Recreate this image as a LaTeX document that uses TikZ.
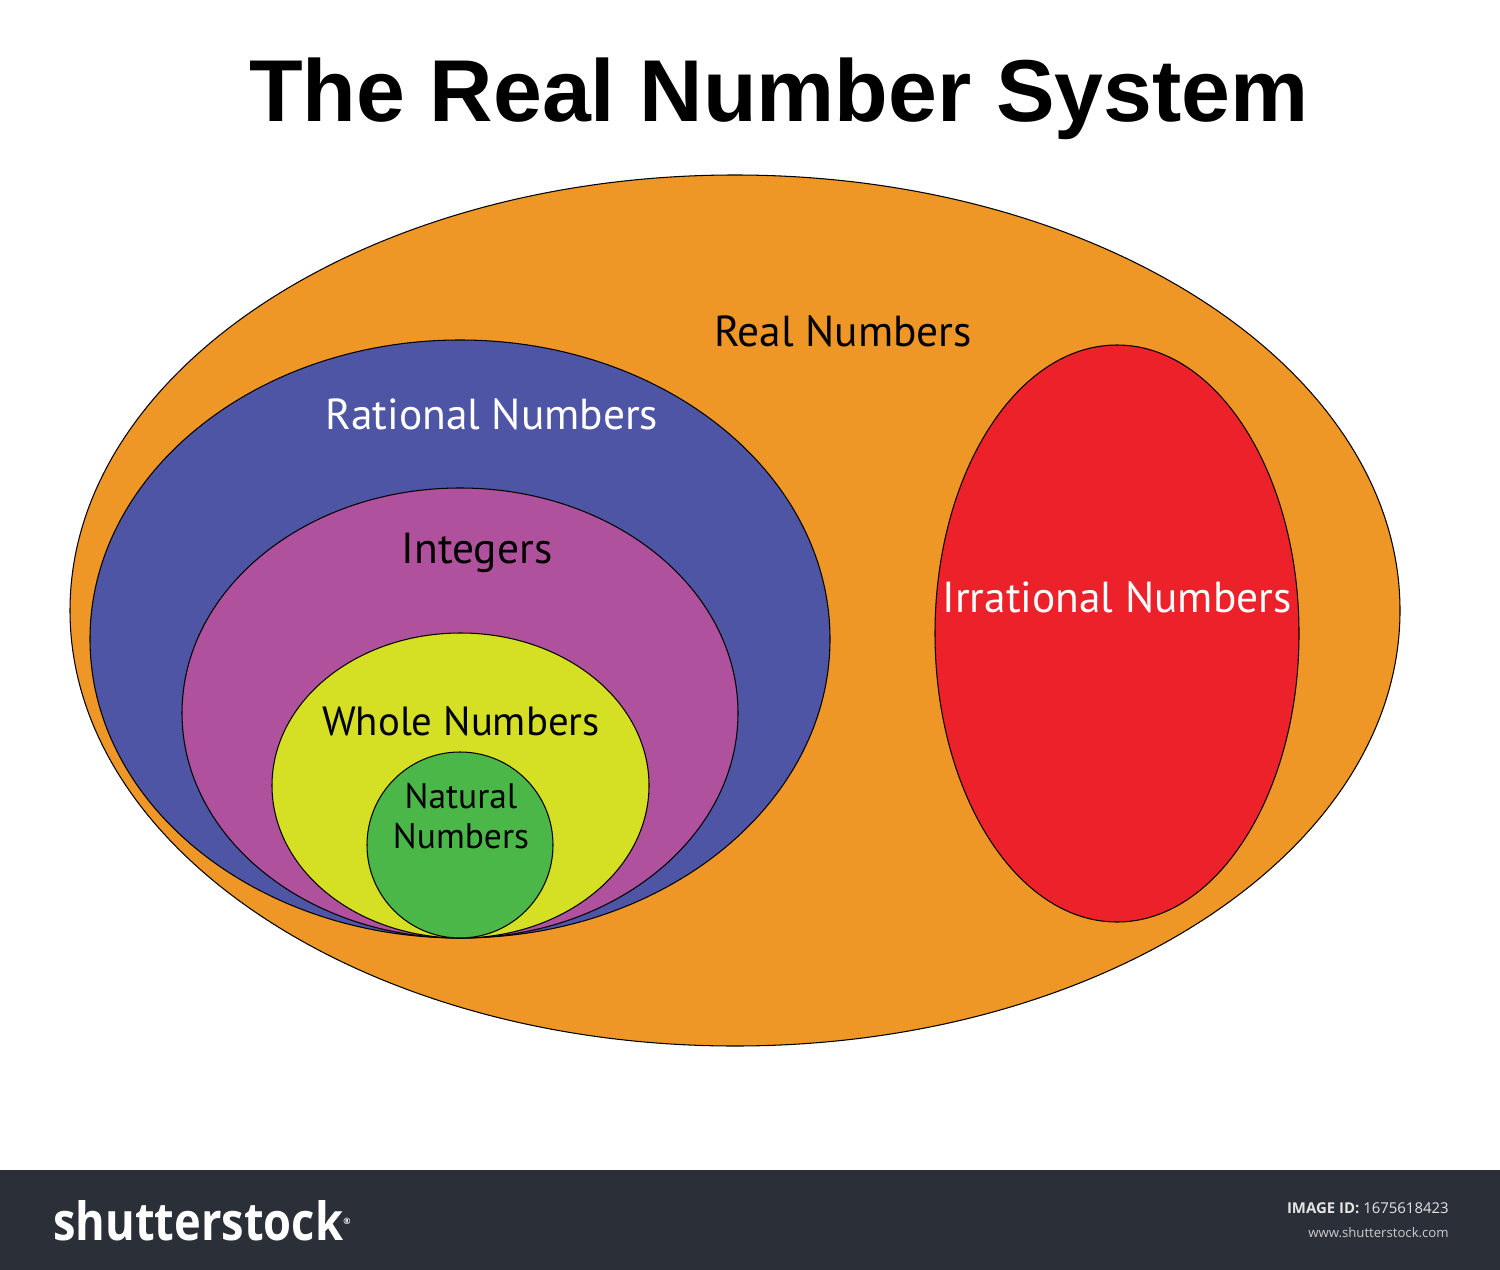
\documentclass[tikz,border=0pt]{standalone}
\usepackage{fontspec}
\setmainfont{PT Sans}
\newfontfamily\titlefont{Liberation Sans}
\newfontfamily\barfont{Open Sans}
\definecolor{cOrange}{HTML}{EE9726}
\definecolor{cBlue}{HTML}{4F55A5}
\definecolor{cPurple}{HTML}{B0519D}
\definecolor{cYellow}{HTML}{D5DF24}
\definecolor{cGreen}{HTML}{4BB748}
\definecolor{cRed}{HTML}{EC2129}
\definecolor{cBar}{HTML}{2A2F38}
\tikzset{
  setline/.style={draw=black, line width=0.6pt},
  lbl/.style={inner sep=0pt, font=\fontsize{24.7}{28}\selectfont},
}
\begin{document}
\begin{tikzpicture}[x=0.02cm, y=-0.02cm]
\useasboundingbox (0,0) rectangle (1500,1270);
\fill[white] (0,0) rectangle (1500,1270);
% sets
\filldraw[setline, fill=cOrange] (735,610.5) ellipse [x radius=665, y radius=435.5];
\filldraw[setline, fill=cBlue] (460,639) ellipse [x radius=370, y radius=299];
\filldraw[setline, fill=cPurple] (460,713) ellipse [x radius=278, y radius=225];
\filldraw[setline, fill=cYellow] (460.5,785.5) ellipse [x radius=188.5, y radius=152.5];
\filldraw[setline, fill=cGreen] (460,845) ellipse [x radius=93, y radius=93];
\filldraw[setline, fill=cRed] (1117,633.5) ellipse [x radius=182, y radius=288.5];
% title
\node[inner sep=0pt, font=\titlefont\bfseries\fontsize{50}{56}\selectfont] (title) at (779,99) {The Real Number System};
% labels
\node[lbl, text=black] (real) at (843,331) {Real Numbers};
\node[lbl, text=white] (rational) at (492,414) {Rational Numbers};
\node[lbl, text=black] (integers) at (477,553) {Integers};
\node[lbl, text=black, font=\fontsize{23.2}{28}\selectfont] (whole) at (461,721) {Whole Numbers};
\node[lbl, text=black, align=center, font=\fontsize{20.2}{23.2}\selectfont] (natural) at (461,816) {Natural\\Numbers};
\node[lbl, text=white] (irrational) at (1117,597) {Irrational Numbers};
% bottom bar
\fill[cBar] (0,1170) rectangle (1500,1270);
\node[inner sep=0pt, anchor=west, text=white, font=\barfont\bfseries\fontsize{30}{34}\selectfont] (logo) at (53,1221) {\resizebox{290\dimexpr0.02cm\relax}{40\dimexpr0.02cm\relax}{shutterstock}\textsuperscript{\tiny®}};
\node[inner sep=0pt, anchor=east, text=white!90!black, font=\barfont\fontsize{8.5}{10}\selectfont] (imgid) at (1449,1208) {{\bfseries IMAGE ID:} 1675618423};
\node[inner sep=0pt, anchor=east, text=white!80!black, font=\barfont\fontsize{7.5}{9}\selectfont] (www) at (1449,1233) {www.shutterstock.com};
\end{tikzpicture}
\end{document}
